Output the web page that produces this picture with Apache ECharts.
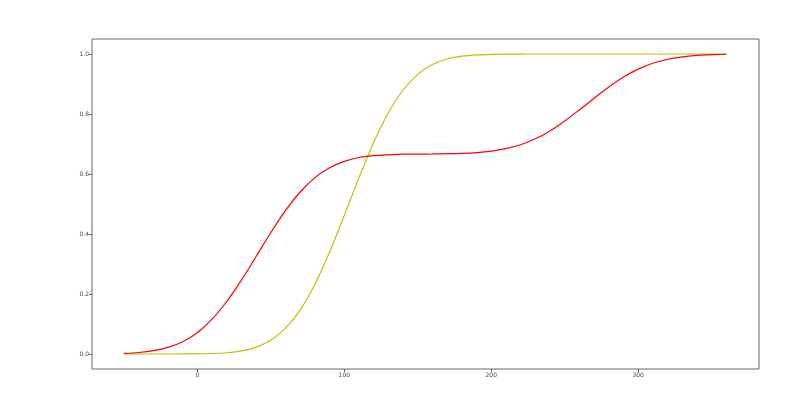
<!DOCTYPE html>
<html>
<head>
<meta charset="utf-8">
<script src="https://cdn.jsdelivr.net/npm/echarts@6/dist/echarts.min.js"></script>
<style>html,body{margin:0;padding:0;background:#fff;}#c{width:800px;height:412px;}</style>
</head>
<body>
<div id="c"></div>
<script>
var xValues = [-50,-40,-30,-20,-10,0,10,20,30,40,50,60,70,80,90,100,110,120,130,140,150,160,170,180,190,200,210,220,230,240,250,260,270,280,290,300,310,320,330,340,350,360];
var yellowValues = [0,0,0,0,0.0002,0.0005,0.0016,0.0042,0.0103,0.0228,0.0462,0.0861,0.1473,0.2327,0.3398,0.4621,0.5879,0.7054,0.8043,0.88,0.9322,0.9648,0.9833,0.9927,0.9971,0.999,0.9997,0.9999,1,1,1,1,1,1,1,1,1,1,1,1,1,1];
var redValues = [0.002,0.005,0.011,0.022,0.041,0.071,0.116,0.175,0.246,0.325,0.405,0.479,0.54,0.588,0.621,0.642,0.655,0.661,0.664,0.666,0.6664,0.6668,0.6676,0.6688,0.6713,0.676,0.6843,0.6976,0.7173,0.7437,0.7766,0.8139,0.8528,0.8902,0.923,0.9495,0.9691,0.9824,0.9907,0.9955,0.998,0.9992];
var xTicks = [0,100,200,300];
var yTicks = [0,0.2,0.4,0.6,0.8,1.0];

function pairs(ys){ return xValues.map(function(x,i){ return [x, ys[i]]; }); }

var chart = echarts.init(document.getElementById('c'), null, {renderer:'canvas'});
var labelStyle = {fontFamily:'DejaVu Sans', fontSize:6, color:'#444'};
chart.setOption({
  animation:false,
  backgroundColor:'#fff',
  grid:{left:92, right:41, top:39, bottom:43, show:true, borderColor:'#666', borderWidth:1, containLabel:false},
  xAxis:{
    type:'value', min:-71.7, max:382.2,
    splitLine:{show:false},
    axisLine:{show:false, onZero:false},
    axisTick:{show:true, length:3, lineStyle:{color:'#666'}, customValues:xTicks},
    axisLabel:Object.assign({margin:3, customValues:xTicks, formatter:function(v){return String(v);}}, labelStyle)
  },
  yAxis:{
    type:'value', min:-0.05, max:1.05,
    splitLine:{show:false},
    axisLine:{show:false, onZero:false},
    axisTick:{show:true, length:3, lineStyle:{color:'#666'}, customValues:yTicks},
    axisLabel:Object.assign({margin:3, customValues:yTicks, formatter:function(v){return v.toFixed(1);}}, labelStyle)
  },
  series:[
    {type:'line', data:pairs(yellowValues), showSymbol:false, smooth:0.3, lineStyle:{color:'#bfbf00', width:1.2}, itemStyle:{color:'#bfbf00'}},
    {type:'line', data:pairs(redValues), showSymbol:false, smooth:0.3, lineStyle:{color:'#ff0000', width:1.2}, itemStyle:{color:'#ff0000'}}
  ]
});
</script>
</body>
</html>
